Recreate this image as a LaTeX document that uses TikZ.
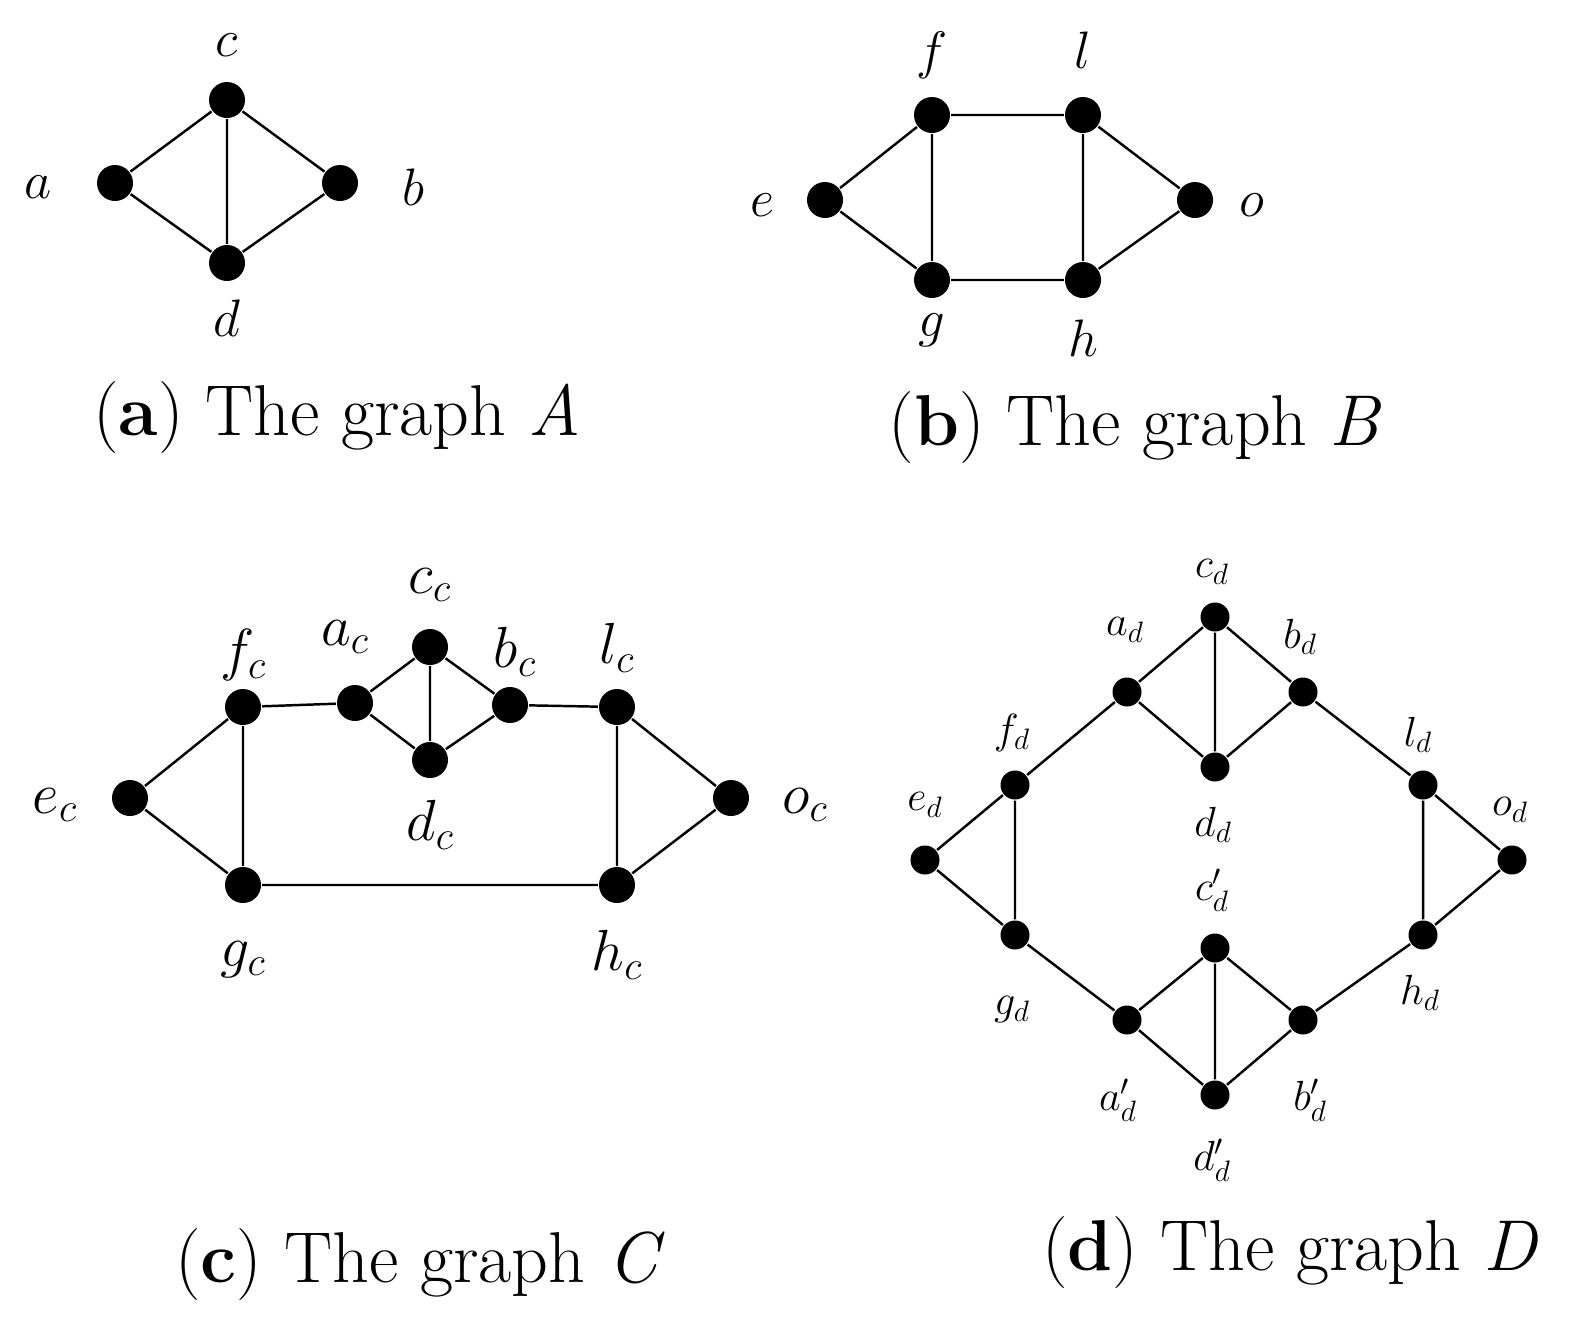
\documentclass[tikz,border=0pt]{standalone}
\usepackage{fix-cm}
\begin{document}
\begin{tikzpicture}[x=0.02cm,y=-0.02cm,
  v/.style={circle,fill=black,inner sep=0pt,minimum size=36*0.02cm},
  vs/.style={circle,fill=black,inner sep=0pt,minimum size=29*0.02cm},
  lb/.style={inner sep=0pt,font=\fontsize{30}{32}\selectfont},
  lbc/.style={inner sep=0pt,font=\fontsize{33}{35}\selectfont},
  lbs/.style={inner sep=0pt,font=\fontsize{24}{26}\selectfont},
  captext/.style={inner sep=0pt,font=\fontsize{41}{45}\selectfont},
  every path/.style={line width=1.4pt}]
\useasboundingbox (0,0) rectangle (1571,1339);
% A
\node[v] (c) at (227,100) {}; \node[v] (a) at (115,183) {};
\node[v] (b) at (340,183) {}; \node[v] (d) at (227,263) {};
\draw (a)--(c)--(b)--(d)--(a) (c)--(d);
\node[lb] (lc) at (227,45) {$c$}; \node[lb] (la) at (38,187) {$a$};
\node[lb] (lb1) at (413,187) {$b$}; \node[lb] (ld) at (227,318) {$d$};
\node[captext] (capA) at (337,418) {(\textbf{a}) The graph \textit{A}};
% B
\node[v] (f) at (932,115) {}; \node[v] (l) at (1083,115) {};
\node[v] (e) at (825,200) {}; \node[v] (o) at (1195,200) {};
\node[v] (g) at (932,280) {}; \node[v] (h) at (1083,280) {};
\draw (e)--(f)--(l)--(o)--(h)--(g)--(e) (f)--(g) (l)--(h);
\node[lb] (lf) at (932,55) {$f$}; \node[lb] (ll) at (1083,50) {$l$};
\node[lb] (le) at (762,205) {$e$}; \node[lb] (lo) at (1252,205) {$o$};
\node[lb] (lg) at (932,330) {$g$}; \node[lb] (lh) at (1083,338) {$h$};
\node[captext] (capB) at (1135,428) {(\textbf{b}) The graph \textit{B}};
% C
\node[v] (fc) at (243,707) {}; \node[v] (ac) at (355,703) {};
\node[v] (cc) at (430,647) {}; \node[v] (bc) at (510,705) {};
\node[v] (lcc) at (617,707) {}; \node[v] (dc) at (430,760) {};
\node[v] (ec) at (130,798) {}; \node[v] (oc) at (731,798) {};
\node[v] (gc) at (243,885) {}; \node[v] (hc) at (617,885) {};
\draw (ec)--(fc)--(ac)--(cc)--(bc)--(lcc)--(oc)--(hc)--(gc)--(ec)
 (fc)--(gc) (lcc)--(hc) (ac)--(dc)--(bc) (cc)--(dc);
\node[lbc] at (243,655) {$f_c$}; \node[lbc] at (345,637) {$a_c$};
\node[lbc] at (430,585) {$c_c$}; \node[lbc] at (515,652) {$b_c$};
\node[lbc] at (617,648) {$l_c$}; \node[lbc] at (430,825) {$d_c$};
\node[lbc] at (55,805) {$e_c$}; \node[lbc] at (805,805) {$o_c$};
\node[lbc] at (243,960) {$g_c$}; \node[lbc] at (617,955) {$h_c$};
\node[captext] (capC) at (420,1265) {(\textbf{c}) The graph \textit{C}};
% D
\node[vs] (cd) at (1215,617) {}; \node[vs] (ad) at (1127,692) {};
\node[vs] (bd) at (1303,692) {}; \node[vs] (dd) at (1215,767) {};
\node[vs] (fd) at (1015,785) {}; \node[vs] (ld2) at (1423,785) {};
\node[vs] (ed) at (925,860) {}; \node[vs] (od) at (1512,860) {};
\node[vs] (gd) at (1015,935) {}; \node[vs] (hd) at (1423,935) {};
\node[vs] (cpd) at (1215,948) {}; \node[vs] (apd) at (1127,1020) {};
\node[vs] (bpd) at (1303,1020) {}; \node[vs] (dpd) at (1215,1095) {};
\draw (ed)--(fd)--(ad)--(cd)--(bd)--(ld2)--(od)--(hd)--(bpd)--(dpd)--(apd)--(gd)--(ed)
 (fd)--(gd) (ld2)--(hd) (ad)--(dd)--(bd) (cd)--(dd)
 (apd)--(cpd)--(bpd) (cpd)--(dpd);
\node[lbs] at (1212,572) {$c_d$}; \node[lbs] at (1125,630) {$a_d$};
\node[lbs] at (1300,637) {$b_d$}; \node[lbs] at (1213,825) {$d_d$};
\node[lbs] at (1012,733) {$f_d$}; \node[lbs] at (1418,735) {$l_d$};
\node[lbs] at (925,805) {$e_d$}; \node[lbs] at (1510,810) {$o_d$};
\node[lbs] at (1012,1010) {$g_d$}; \node[lbs] at (1420,993) {$h_d$};
\node[lbs] at (1212,890) {$c'_d$}; \node[lbs] at (1118,1100) {$a'_d$};
\node[lbs] at (1310,1100) {$b'_d$}; \node[lbs] at (1212,1160) {$d'_d$};
\node[captext] (capD) at (1290,1253) {(\textbf{d}) The graph \textit{D}};
\end{tikzpicture}
\end{document}
